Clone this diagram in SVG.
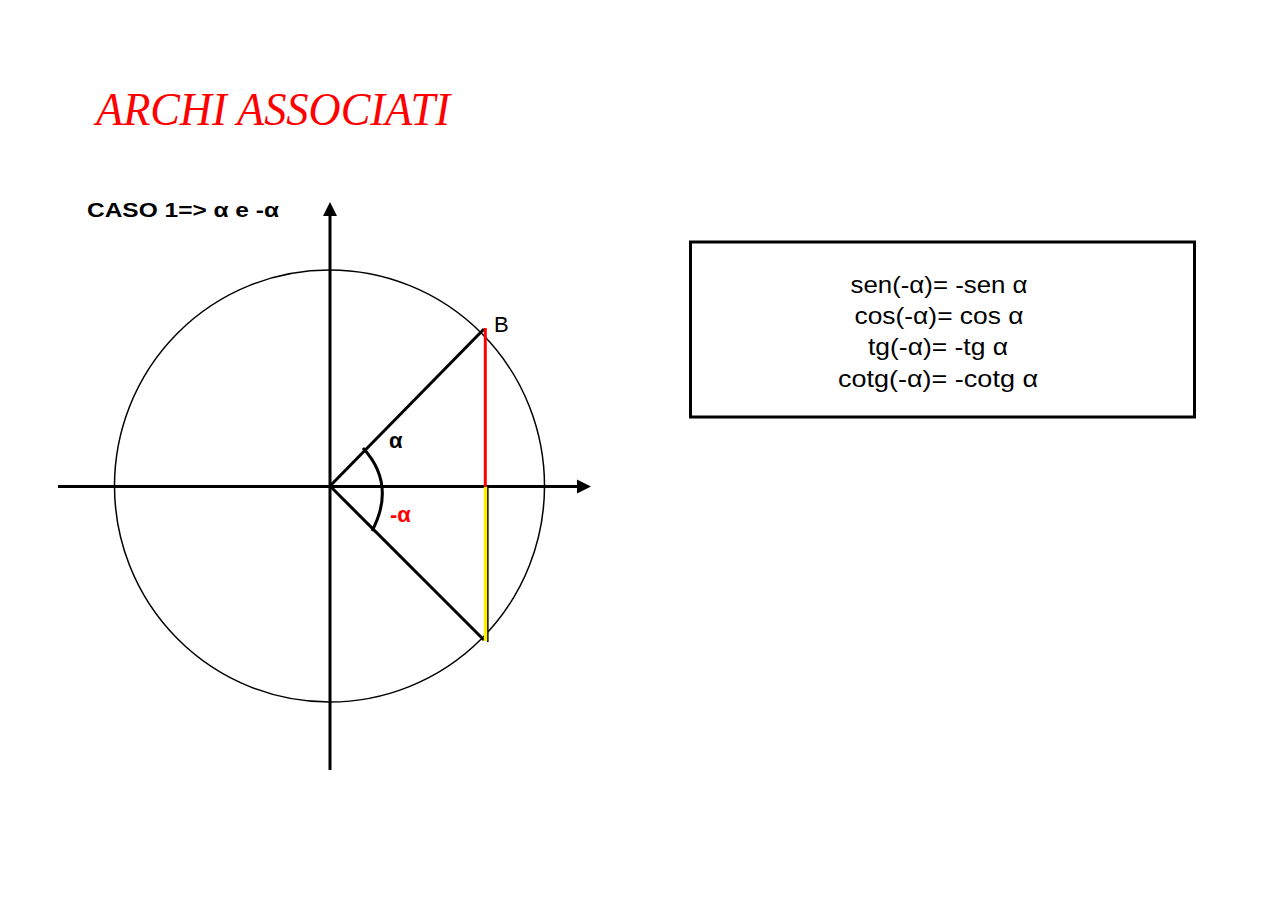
<svg xmlns="http://www.w3.org/2000/svg" width="1280" height="905" viewBox="0 0 1280 905">
<defs>
<style>
.ax{stroke:#000;stroke-width:3;fill:none}
.thin{stroke:#000;stroke-width:1.5;fill:none}
.sans{font-family:"Liberation Sans",Arial,sans-serif}
.eq{font-family:"Liberation Sans",Arial,sans-serif;font-size:24px;fill:#000;text-anchor:middle}
</style>
</defs>
<rect x="0" y="0" width="1280" height="905" fill="#fff"/>
<g id="title">
<text x="96" y="125" font-family="'Liberation Serif','Times New Roman',serif" font-style="italic" font-size="46" fill="#ff0000" textLength="354" lengthAdjust="spacingAndGlyphs">ARCHI ASSOCIATI</text>
</g>
<g id="caso">
<text x="87" y="217" class="sans" font-weight="bold" font-size="21" fill="#000" textLength="192" lengthAdjust="spacingAndGlyphs">CASO 1=&gt; α e -α</text>
</g>
<g id="circle">
<ellipse cx="329.5" cy="486" rx="215" ry="216" class="thin"/>
</g>
<g id="connectors">
<line x1="58" y1="486.5" x2="578" y2="486.5" class="ax"/>
<polygon points="591,486.5 577,479.5 577,493.5" fill="#000"/>
<line x1="330" y1="770" x2="330" y2="214" class="ax"/>
<polygon points="330,202 323,216 337,216" fill="#000"/>
<line x1="330" y1="486" x2="484" y2="329" class="ax"/>
<line x1="330" y1="486" x2="484" y2="640" class="ax"/>
<path d="M363 448 Q396.5 484.5 372 531" class="ax"/>
<line x1="485.3" y1="328" x2="485.3" y2="487" stroke="#ff0000" stroke-width="3"/>
<line x1="487.8" y1="486" x2="487.8" y2="642" stroke="#000" stroke-width="1.6"/>
<line x1="485.5" y1="487" x2="485.5" y2="641" stroke="#ffee00" stroke-width="3.4"/>
</g>
<g id="labels">
<text x="494" y="332" class="sans" font-size="22" fill="#000">B</text>
<text x="389" y="448" class="sans" font-weight="bold" font-size="22" fill="#000">α</text>
<text x="390" y="522" class="sans" font-weight="bold" font-size="22" fill="#ff0000">-α</text>
</g>
<g id="box">
<rect x="690.5" y="242" width="504" height="175" fill="#fff" stroke="#000" stroke-width="3"/>
<text x="939" y="293" class="eq" textLength="177" lengthAdjust="spacingAndGlyphs">sen(-α)= -sen α</text>
<text x="939" y="324" class="eq" textLength="169" lengthAdjust="spacingAndGlyphs">cos(-α)= cos α</text>
<text x="938" y="355" class="eq" textLength="140" lengthAdjust="spacingAndGlyphs">tg(-α)= -tg α</text>
<text x="938" y="387" class="eq" textLength="200" lengthAdjust="spacingAndGlyphs">cotg(-α)= -cotg α</text>
</g>
</svg>
